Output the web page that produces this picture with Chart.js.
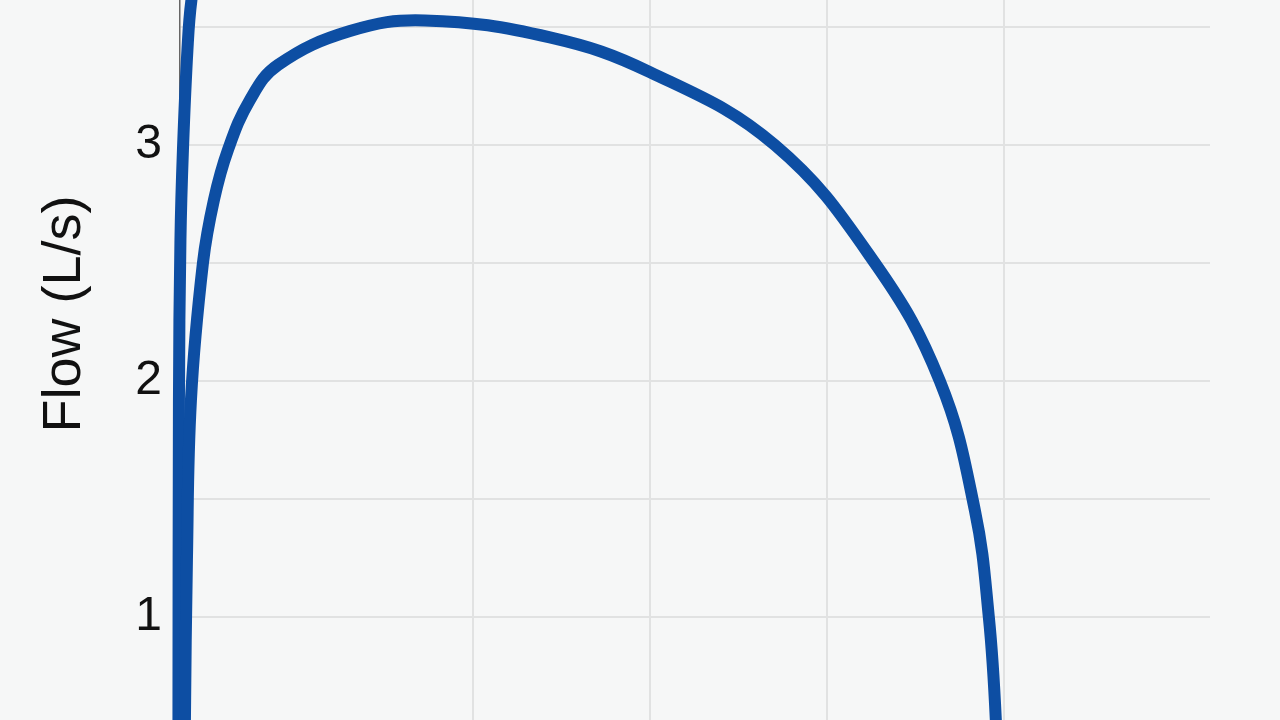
<!DOCTYPE html>
<html>
<head>
<meta charset="utf-8">
<script src="https://cdn.jsdelivr.net/npm/chart.js@4"></script>
<style>
  html, body { margin: 0; padding: 0; width: 1280px; height: 720px; overflow: hidden; background: #f6f7f7; }
  #wrap { position: absolute; left: 0; top: -150px; width: 1280px; height: 928px; }
</style>
</head>
<body>
<div id="wrap"><canvas id="chart" width="1280" height="928"></canvas></div>
<script>
// flow-volume curves, volume in L, flow in L/s

const trialVolume = [0.3672, 0.3729, 0.3842, 0.4068, 0.4746, 0.5367, 0.6158, 0.7401, 0.8983, 1.3051, 1.7288, 2.435, 3.0, 3.7062, 4.2712, 4.6384, 4.8362, 4.9153, 4.9548, 4.9774]
const trialFlow = [0, 0.564, 1.242, 1.919, 2.5, 2.767, 2.979, 3.191, 3.339, 3.483, 3.528, 3.456, 3.309, 3.0, 2.5, 2.0, 1.453, 1.0, 0.564, 0]

const steepVolume = [0.3333, 0.3362, 0.339, 0.3475, 0.3616, 0.387, 0.4096, 0.4802, 0.5989]
const steepFlow = [0, 0.564, 1.919, 2.597, 2.979, 3.403, 3.614, 3.953, 4.25]

const xGrid = [2, 3, 4, 5]
const xMin = 0.345
const xMax = 6.165
const yMin = 0.318
const yMax = 4.25

const toPoints = (xs, ys) => xs.map((x, i) => ({x: x, y: ys[i]}))

const lineBlue = '#0d4ea3'
const gridGrey = '#e1e2e2'

new Chart(document.getElementById('chart').getContext('2d'), {
   type: 'line',
   data: {
      datasets: [
         {
            data: toPoints(trialVolume, trialFlow),
            borderColor: lineBlue,
            borderWidth: 12,
            pointRadius: 0,
            tension: 0.4,
            clip: false,
         },
         {
            data: toPoints(steepVolume, steepFlow),
            borderColor: lineBlue,
            borderWidth: 12,
            pointRadius: 0,
            tension: 0.4,
            clip: false,
         }
      ]
   },
   options: {
      responsive: false,
      animation: false,
      layout: { padding: { left: 0, right: 70, top: 0, bottom: 0 } },
      plugins: { legend: { display: false }, tooltip: { enabled: false } },
      scales: {
         x: {
            type: 'linear',
            bounds: 'data',
            afterDataLimits: (scale) => { scale.min = xMin; scale.max = xMax },
            afterBuildTicks: (scale) => { scale.ticks = xGrid.map(v => ({value: v})) },
            afterFit: (scale) => { scale.height = 0; scale.paddingLeft = 0; scale.paddingRight = 0 },
            ticks: { display: false },
            grid: { color: gridGrey, lineWidth: 2, drawTicks: false },
            border: { display: false },
         },
         y: {
            min: yMin,
            max: yMax,
            afterFit: (scale) => { scale.width = 180; scale.paddingTop = 0; scale.paddingBottom = 0 },
            ticks: {
               stepSize: 0.5,
               maxTicksLimit: 20,
               includeBounds: false,
               padding: 18,
               color: '#111',
               font: { family: 'Liberation Sans, Arial, sans-serif', size: 48 },
               callback: (v) => Number.isInteger(v) ? v : '',
            },
            grid: { color: gridGrey, lineWidth: 2, drawTicks: false },
            border: { display: true, color: '#666', width: 1.5 },
            title: {
               display: true,
               text: 'Flow (L/s)',
               color: '#111',
               padding: { top: 33, bottom: 0 },
               font: { family: 'Liberation Sans, Arial, sans-serif', size: 54 },
            }
         }
      }
   }
})
</script>
</body>
</html>
